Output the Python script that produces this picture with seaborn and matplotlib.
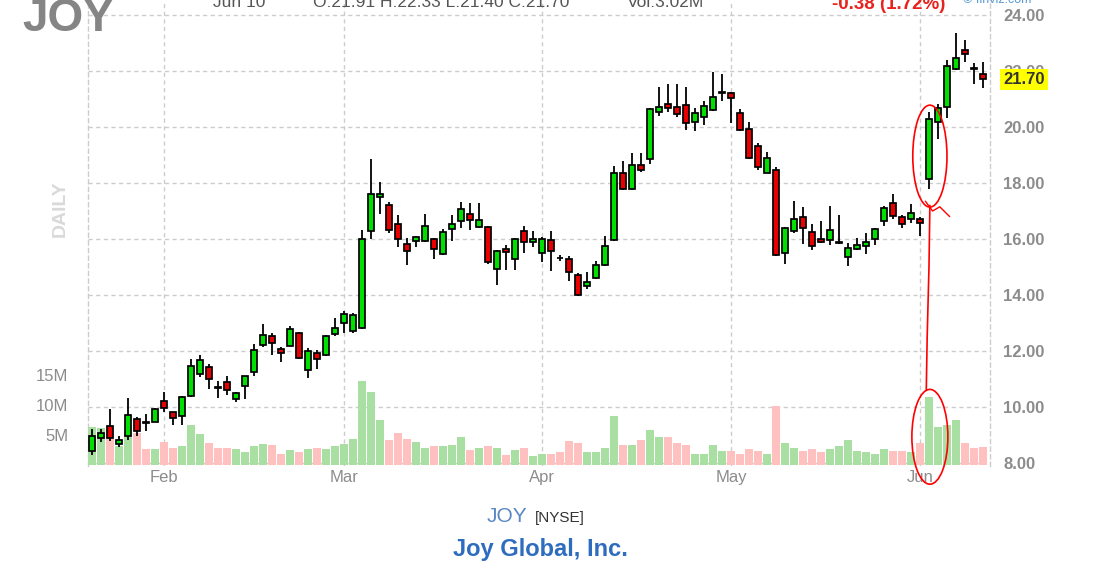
import numpy as np
import pandas as pd
import matplotlib
matplotlib.use("Agg")
import matplotlib.pyplot as plt
from matplotlib.patches import Ellipse
import seaborn as sns

# ---------------- data ----------------
ticker = "JOY"
exchange = "[NYSE]"
company = "Joy Global, Inc."
holidays = ["2016-02-15", "2016-03-25", "2016-05-30"]
dates = pd.bdate_range("2016-01-20", "2016-06-10")
dates = dates[~dates.isin(pd.to_datetime(holidays))]

opens = [8.44, 8.88, 9.33, 8.68, 8.95, 9.57, 9.46, 9.48, 10.23, 9.81,
         9.69, 10.38, 11.18, 11.42, 10.71, 10.90, 10.29, 10.76, 11.24, 12.21,
         12.55, 12.07, 12.19, 12.64, 11.33, 11.93, 11.87, 12.62, 13.00, 12.70,
         12.82, 16.27, 17.50, 17.23, 16.54, 15.82, 15.92, 15.92, 16.00, 15.48,
         16.36, 16.65, 16.90, 16.43, 16.43, 14.93, 15.65, 15.30, 16.27, 15.90,
         15.50, 15.95, 15.33, 15.30, 14.70, 14.33, 14.61, 15.08, 15.95, 18.36,
         17.77, 18.63, 18.85, 20.55, 20.83, 20.71, 20.77, 20.19, 20.36, 20.61,
         21.22, 21.20, 20.51, 19.92, 19.32, 18.37, 18.46, 15.51, 16.29, 16.80,
         16.26, 15.99, 15.95, 15.86, 15.36, 15.63, 15.75, 15.99, 16.64, 17.27,
         16.80, 16.70, 16.70, 18.13, 20.19, 20.71, 22.06, 22.75, 22.12, 21.91]
highs = [9.21, 9.21, 9.93, 8.95, 10.31, 9.65, 9.75, 9.96, 10.52, 9.83,
         10.40, 11.71, 11.86, 11.54, 10.94, 11.10, 10.52, 11.12, 12.25, 12.96,
         12.64, 12.14, 12.88, 12.67, 12.11, 12.05, 12.58, 13.18, 13.42, 13.36,
         16.33, 18.86, 18.02, 17.31, 16.87, 16.04, 16.10, 16.90, 16.04, 16.36,
         16.87, 17.31, 17.29, 17.29, 16.48, 15.62, 15.77, 16.04, 16.48, 16.27,
         16.07, 16.27, 15.44, 15.40, 14.79, 14.81, 15.20, 16.12, 18.60, 18.80,
         19.08, 19.08, 20.69, 21.44, 21.52, 21.52, 21.44, 20.69, 20.93, 21.96,
         21.88, 21.25, 20.65, 20.18, 19.44, 19.11, 18.57, 16.43, 17.36, 17.14,
         16.55, 16.64, 17.18, 16.86, 15.87, 16.05, 16.23, 16.40, 17.18, 17.62,
         16.86, 17.24, 16.79, 20.55, 20.83, 22.38, 23.37, 23.10, 22.30, 22.33]
lows = [8.29, 8.74, 8.80, 8.56, 8.82, 8.98, 9.15, 9.45, 9.81, 9.36,
        9.36, 10.36, 11.06, 10.64, 10.31, 10.43, 10.19, 10.29, 11.12, 12.13,
        11.87, 11.60, 12.17, 11.71, 11.04, 11.36, 11.81, 12.52, 12.64, 12.64,
        12.80, 16.00, 16.90, 16.21, 15.71, 15.08, 15.71, 15.88, 15.29, 15.44,
        15.92, 16.39, 16.33, 16.39, 15.12, 14.37, 14.90, 14.90, 15.50, 15.71,
        15.17, 14.85, 15.20, 14.49, 13.95, 14.21, 14.57, 15.05, 15.92, 17.76,
        17.75, 18.39, 18.67, 20.39, 20.54, 20.37, 19.89, 19.86, 20.06, 20.57,
        20.93, 20.13, 19.86, 18.87, 18.46, 18.35, 15.40, 15.12, 16.23, 15.81,
        15.60, 15.87, 15.79, 15.83, 15.04, 15.60, 15.45, 15.79, 16.46, 16.70,
        16.40, 16.58, 16.11, 17.77, 19.56, 20.33, 22.02, 22.33, 21.52, 21.40]
closes = [8.98, 9.07, 8.88, 8.82, 9.71, 9.15, 9.44, 9.93, 9.96, 9.60,
          10.35, 11.45, 11.68, 11.00, 10.69, 10.61, 10.49, 11.10, 12.05, 12.57,
          12.29, 11.93, 12.79, 11.75, 11.99, 11.71, 12.52, 12.82, 13.32, 13.27,
          16.00, 17.61, 17.61, 16.31, 16.00, 15.56, 16.06, 16.48, 15.65, 16.25,
          16.55, 17.07, 16.69, 16.69, 15.17, 15.56, 15.52, 16.00, 15.88, 16.00,
          16.00, 15.56, 15.31, 14.81, 13.99, 14.45, 15.08, 15.74, 18.36, 17.79,
          18.63, 18.46, 20.63, 20.71, 20.67, 20.45, 20.13, 20.51, 20.75, 21.08,
          21.24, 21.02, 19.89, 18.90, 18.57, 18.90, 15.43, 16.38, 16.70, 16.38,
          15.75, 15.89, 16.31, 15.88, 15.67, 15.79, 15.90, 16.35, 17.10, 16.82,
          16.55, 16.94, 16.58, 20.27, 20.67, 22.18, 22.45, 22.60, 22.08, 21.70]
volumes_m = [6.4, 6.1, 6.4, 3.1, 5.5, 5.3, 2.7, 2.7, 3.9, 2.9,
             3.2, 6.7, 5.2, 3.7, 2.9, 2.9, 2.7, 2.2, 3.2, 3.5,
             3.4, 1.9, 2.5, 2.2, 2.7, 2.9, 2.7, 3.2, 3.5, 4.4,
             14.0, 12.1, 7.5, 4.2, 5.4, 4.4, 3.9, 2.9, 3.2, 3.2,
             3.4, 4.7, 2.5, 2.9, 3.2, 2.9, 1.7, 2.5, 2.9, 1.5,
             1.9, 1.9, 2.2, 4.0, 3.7, 2.2, 2.2, 2.9, 8.2, 3.4,
             3.4, 4.2, 5.9, 4.7, 4.7, 3.7, 3.4, 1.9, 1.9, 3.4,
             2.4, 2.4, 1.9, 2.7, 2.4, 1.9, 9.9, 3.7, 2.9, 2.4,
             2.7, 2.2, 2.7, 3.2, 4.2, 2.4, 2.2, 1.9, 2.7, 2.4,
             2.4, 2.1, 3.6, 11.4, 6.4, 6.7, 7.5, 3.6, 2.9, 3.02]
price_ticks = [8, 10, 12, 14, 16, 18, 20, 22, 24]
volume_ticks = [5, 10, 15]
volume_tick_labels = ["5M", "10M", "15M"]

# ---------------- frame ----------------
o = np.array(opens); h = np.array(highs); l = np.array(lows); c = np.array(closes)
idx = np.arange(len(dates))
df = pd.DataFrame({"idx": idx, "open": o, "high": h, "low": l, "close": c,
                   "volume": volumes_m,
                   "dir": np.where(c >= o, "up", "down")})
month_pos = [i for i in range(len(dates)) if i > 0 and dates[i].month != dates[i - 1].month]
month_lab = [dates[i].strftime("%b") for i in month_pos]

sns.set_theme(style="white")
plt.rcParams["font.family"] = ["Liberation Sans", "DejaVu Sans"]

W, H = 1094, 574
fig = plt.figure(figsize=(W / 100, H / 100), dpi=100)
fig.patch.set_facecolor("white")
pos = [88 / W, 108 / H, 902 / W, 466 / H]

ax = fig.add_axes(pos, zorder=0)
axv = fig.add_axes(pos, sharex=ax, zorder=1)
axc = fig.add_axes(pos, sharex=ax, zorder=2)
for a in (axv, axc):
    a.patch.set_visible(False)

# volume bars
sns.barplot(data=df, x="idx", y="volume", hue="dir",
            palette={"up": "#aadfa3", "down": "#ffc0c0"},
            dodge=False, native_scale=True, width=0.88, saturation=1,
            errorbar=None, legend=False, linewidth=0, ax=axv)

# candles
up = c >= o
body_col = np.where(up, "#00e000", "#e80000")
axc.vlines(idx, l, h, color="black", linewidth=1.3, zorder=1)
axc.bar(idx, np.maximum(np.abs(c - o), 0.001), bottom=np.minimum(o, c),
        width=0.64, color=body_col, edgecolor="black", linewidth=1.25, zorder=2)

# limits
xlim = (-0.44, 99.78)
ylim = (7.893, 24.536)
ax.set_xlim(*xlim)
ax.set_ylim(*ylim)
axc.set_ylim(*ylim)
axv.set_ylim(-0.167, 77.5)

# grid / spines on base axes
grid_kw = dict(color="#cccccc", linestyle=(0, (3, 2.5)), linewidth=1.0)
ax.set_yticks(price_ticks)
ax.set_yticklabels([f"{v:.2f}" for v in price_ticks])
ax.set_xticks(month_pos)
ax.set_xticklabels(month_lab)
ax.grid(True, **grid_kw)
ax.yaxis.tick_right()
ax.tick_params(axis="y", length=0, pad=9.4, labelcolor="#8c8c8c", labelsize=12)
ax.tick_params(axis="x", length=0, pad=3, labelcolor="#8c8c8c", labelsize=12)
for t in ax.get_yticklabels():
    t.set_fontweight("bold")
for side in ("top", "bottom"):
    ax.spines[side].set_visible(False)
for side in ("left", "right"):
    ax.spines[side].set_visible(True)
    ax.spines[side].set_color("#cccccc")
    ax.spines[side].set_linestyle((0, (3, 2.5)))
    ax.spines[side].set_linewidth(1.0)
ax.set_xlabel(""); ax.set_ylabel("")

# volume axis labels on left
axv.yaxis.tick_left()
axv.set_yticks(volume_ticks)
axv.set_yticklabels(volume_tick_labels)
axv.tick_params(axis="y", length=0, pad=14, labelcolor="#8c8c8c", labelsize=12)
axv.tick_params(axis="x", bottom=False, labelbottom=False)
axv.grid(False)
axv.set_xlabel(""); axv.set_ylabel("")
for s in axv.spines.values():
    s.set_visible(False)

axc.tick_params(axis="both", left=False, labelleft=False, bottom=False, labelbottom=False)
axc.grid(False)
for s in axc.spines.values():
    s.set_visible(False)

# last price tag
axc.annotate(f"{c[-1]:.2f}", xy=(1, c[-1]), xycoords=("axes fraction", "data"),
             xytext=(9.6, 0), textcoords="offset points", ha="left", va="center",
             fontsize=12, fontweight="bold", color="#333333", annotation_clip=False,
             bbox=dict(boxstyle="square,pad=0.2", facecolor="#ffff00", edgecolor="none"))

# hand-drawn red marks
axc.add_patch(Ellipse((93.1, 18.96), width=3.8, height=3.64, fill=False,
                      edgecolor="red", linewidth=1.2, clip_on=False, zorder=5))
axc.plot([93.1, 93.0, 92.8, 92.7], [17.2, 15.0, 12.5, 10.6], color="red", lw=1.2, zorder=5)
axc.plot([92.6, 93.4, 94.2, 95.3], [17.35, 17.0, 17.15, 16.8], color="red", lw=1.0, zorder=5)
axv.add_patch(Ellipse((93.1, 4.7), width=4.0, height=15.8, fill=False,
                      edgecolor="red", linewidth=1.2, clip_on=False, zorder=5))

# texts
fig.text(60 / W, 1 - 209 / H, "DAILY", rotation=90, color="#d9d9d9", fontsize=14,
         fontweight="bold", ha="center", va="center")
fig.text(22 / W, 1 - 31 / H, ticker, fontsize=33, fontweight="bold", color="#858585",
         ha="left", va="baseline")
hy = 1 - 7 / H
fig.text(213 / W, hy, dates[-1].strftime("%b %d"), fontsize=12.5, color="#555555", va="baseline")
fig.text(313 / W, hy, f"O:{o[-1]:.2f} H:{h[-1]:.2f} L:{l[-1]:.2f} C:{c[-1]:.2f}",
         fontsize=12.5, color="#555555", va="baseline")
fig.text(627 / W, hy, f"Vol:{volumes_m[-1]:.2f}M", fontsize=12.5, color="#555555", va="baseline")
chg = c[-1] - c[-2]
fig.text(945 / W, 1 - 9 / H, f"{chg:.2f} ({abs(chg) / c[-2] * 100:.2f}%)", fontsize=13.5,
         fontweight="bold", color="#e8221c", ha="right", va="baseline")
fig.text(963 / W, 1 - 3 / H, "\u00a9 finviz.com", fontsize=9, color="#5b9bd5", va="baseline")

fig.text(527 / W, 52 / H, ticker, ha="right", va="baseline", fontsize=15, color="#5a87c5")
fig.text(535 / W, 52 / H, exchange, ha="left", va="baseline", fontsize=11, color="#333333")
fig.text(540 / W, 18 / H, company, ha="center", va="baseline", fontsize=17,
         fontweight="bold", color="#2e6cbf")

fig.savefig("out.png", dpi=100)
